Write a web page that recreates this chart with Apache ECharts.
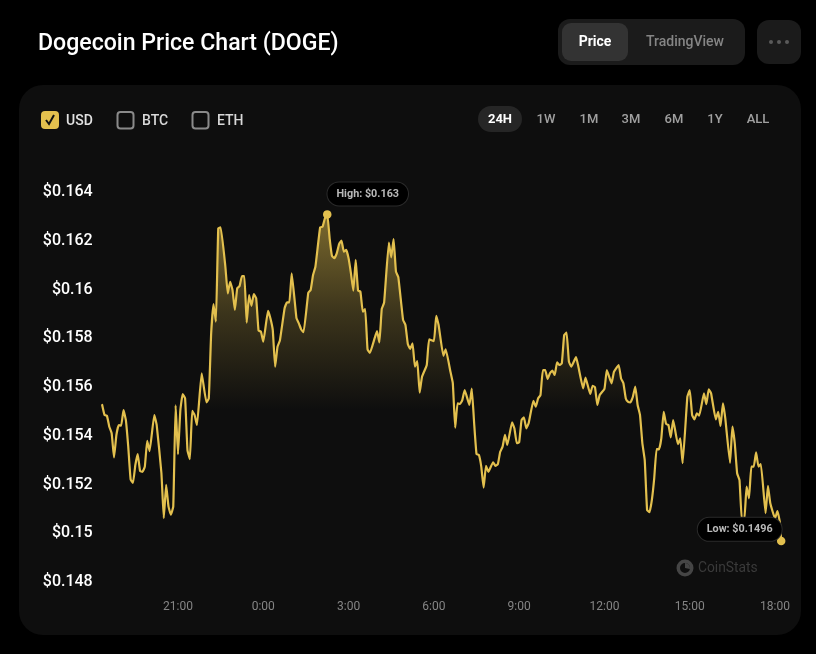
<!DOCTYPE html>
<html><head><meta charset="utf-8">
<style>html,body{margin:0;padding:0;background:#000}#c{width:816px;height:654px}</style>
<script src="https://cdn.jsdelivr.net/npm/echarts@6/dist/echarts.min.js"></script>
</head><body><div id="c"></div>
<script>
// minutes since 18:00 on the first day
const minutes=[20,25,30,35,40,45,50,55,60,65,70,75,80,85,90,95,100,105,110,115,120,130,135,145,150,155,160,165,170,175,180,185,190,195,200,205,210,215,220,230,240,245,250,255,260,265,270,280,285,290,295,300,305,310,315,320,325,330,335,340,345,350,355,360,370,375,380,385,390,395,405,410,415,420,430,435,440,445,455,460,465,470,480,485,490,495,500,505,510,515,520,525,530,535,540,545,550,555,560,565,570,575,580,585,595,600,605,610,615,625,630,635,640,645,655,660,665,670,675,680,685,690,695,705,710,720,725,730,740,745,755,760,765,770,775,780,785,795,800,805,810,815,820,825,830,835,845,850,855,860,865,870,875,885,890,895,900,905,910,915,920,930,935,940,945,950,955,960,965,970,975,980,985,990,995,1000,1005,1010,1020,1025,1035,1040,1050,1055,1060,1065,1070,1080,1085,1095,1100,1110,1115,1120,1125,1130,1135,1140,1145,1150,1155,1160,1165,1170,1175,1180,1185,1190,1195,1200,1205,1210,1215,1220,1225,1235,1240,1245,1255,1260,1265,1270,1275,1280,1290,1295,1300,1305,1315,1320,1325,1330,1335,1345,1350,1355,1360,1365,1370,1375,1380,1385,1390,1395,1400,1405,1410,1420,1425,1430,1440,1445,1450,1453];
const prices=[.15518,.15477,.15474,.15429,.15402,.15303,.15395,.15436,.15433,.15497,.15456,.15347,.15213,.15198,.15272,.15317,.15247,.15244,.15265,.15371,.15329,.15477,.15436,.15239,.15054,.1519,.15101,.15068,.15101,.15517,.15316,.15497,.15563,.15545,.15333,.15296,.15494,.15477,.15436,.15648,.15529,.15545,.15812,.15932,.1586,.16243,.16247,.16085,.15976,.16023,.1599,.15908,.15997,.16006,.16047,.16047,.15856,.15969,.15925,.15973,.15956,.15823,.15819,.15778,.15904,.15874,.15826,.15675,.15757,.15782,.15915,.15939,.15939,.16058,.15874,.15853,.15828,.15817,.15979,.1599,.16051,.16085,.16247,.16249,.16284,.163,.16202,.16129,.1612,.1614,.16178,.16192,.16147,.16154,.1612,.16058,.15987,.16113,.15987,.15983,.15901,.15911,.15746,.15732,.15792,.15821,.15775,.15912,.15938,.16184,.16124,.16199,.16065,.16042,.15867,.15846,.15768,.15748,.15771,.15675,.15698,.15569,.15634,.15682,.15787,.1578,.15884,.15846,.1572,.15746,.15654,.15607,.15425,.15525,.15522,.15538,.15579,.15518,.15585,.15443,.15317,.15313,.15265,.15179,.15268,.15244,.15283,.15268,.15275,.15326,.15347,.15395,.15354,.15447,.15422,.15361,.15365,.15456,.15467,.15422,.15443,.15535,.15511,.15545,.15559,.15661,.15661,.15625,.15648,.15659,.15641,.15693,.15682,.15689,.15805,.15815,.15696,.15675,.15714,.15675,.15586,.1563,.15563,.15597,.15591,.15518,.15559,.15584,.15661,.15607,.15654,.15682,.15627,.15607,.15545,.15531,.15529,.15552,.15593,.15518,.15477,.15361,.15292,.15087,.15078,.15128,.15217,.15337,.15336,.15381,.1549,.1544,.15436,.15385,.15456,.15357,.15381,.15279,.15552,.15579,.15477,.15459,.15484,.15474,.15566,.15521,.15582,.15566,.15459,.1549,.15432,.15525,.15463,.15281,.15429,.15361,.15238,.1521,.15046,.15046,.15183,.15135,.15265,.15265,.15324,.15265,.15276,.15074,.15186,.15115,.15053,.15083,.15039,.1496];
const ranges=['24H','1W','1M','3M','6M','1Y','ALL'];
const rangeX=[500,546,589,631,674,715,758];
const timeLabels=['18:00','21:00','0:00','3:00','6:00','9:00','12:00','15:00','18:00'];
const yellow='#e3c04e';
const FONT='Roboto';

function txt(x,y,s,size,color,weight,align){
  return {type:'text',x,y,z:5,silent:true,style:{text:s,fill:color,font:(weight||400)+' '+size+'px '+FONT,textAlign:align||'left',textVerticalAlign:'middle'}};
}
function rect(x,y,w,h,r,fill,stroke,lw){
  return {type:'rect',z:1,silent:true,shape:{x,y,width:w,height:h,r},style:{fill,stroke:stroke||null,lineWidth:lw||0}};
}
const g=[
  rect(19,85,782,550,24,'#0e0e0e'),
  txt(38,44.5,'Dogecoin Price Chart (DOGE)',23.1,'#ffffff',500),
  rect(558,19,187,46,12,'#1b1b1b'),
  rect(562,23,66,38,9,'#333333'),
  txt(595,42,'Price',14,'#ffffff',700,'center'),
  txt(685,42,'TradingView',14,'#858585',500,'center'),
  rect(757,20,44,44,12,'#1b1b1b'),
  {type:'circle',z:5,silent:true,shape:{cx:771,cy:42,r:2},style:{fill:'#5a5a5a'}},
  {type:'circle',z:5,silent:true,shape:{cx:779,cy:42,r:2},style:{fill:'#5a5a5a'}},
  {type:'circle',z:5,silent:true,shape:{cx:787,cy:42,r:2},style:{fill:'#5a5a5a'}},
  rect(41,111,18,18,4,yellow),
  {type:'polyline',z:5,silent:true,shape:{points:[[46,120],[49,124],[54,115]]},style:{stroke:'#111',lineWidth:2,fill:null}},
  txt(66,121,'USD',14,'#e2e2e2',500),
  rect(117.5,112,16,16.5,3,'transparent','#8a8a8a',2),
  txt(142,121,'BTC',14,'#d8d8d8',500),
  rect(192.5,112,16,16.5,3,'transparent','#8a8a8a',2),
  txt(217,121,'ETH',14,'#d8d8d8',500),
  rect(478,106,44,26,13,'#262626'),
  {type:'ring',z:4,silent:true,shape:{cx:685,cy:568,r:8.5,r0:5},style:{fill:'#454545'}},
  {type:'sector',z:4,silent:true,shape:{cx:685,cy:568,r:5,r0:0,startAngle:-Math.PI/2,endAngle:0.2},style:{fill:'#454545'}},
  {type:'text',x:698,y:569,z:4,silent:true,style:{text:'CoinStats',fill:'#3a3a3a',font:'400 13.8px '+FONT,textVerticalAlign:'middle'}}
];
ranges.forEach((r,i)=>g.push(txt(rangeX[i],119.5,r,13,i===0?'#ffffff':'#a0a0a0',i===0?700:500,'center')));

const pill={color:'#b9b9b9',fontSize:10.8,fontWeight:700,fontFamily:FONT,backgroundColor:'#000',borderColor:'#2b2b2b',borderWidth:1,borderRadius:12,padding:[6,9,6,9]};
const chart=echarts.init(document.getElementById('c'),null,{renderer:'canvas'});
const iHigh=prices.indexOf(Math.max(...prices)), iLow=prices.indexOf(Math.min(...prices));
chart.setOption({
  animation:false,
  backgroundColor:'#000',
  graphic:g,
  grid:{left:92.7,top:190,width:688.5,height:390,containLabel:false},
  xAxis:{type:'value',z:3,min:0,max:1453,interval:180,splitLine:{show:false},axisLine:{show:false},axisTick:{show:false},
    axisLabel:{margin:21,hideOverlap:false,color:'#858585',fontSize:12,fontFamily:FONT,
      formatter:v=>(v>0&&v%180===0)?timeLabels[v/180]:''}},
  yAxis:{type:'value',z:3,min:0.148,max:0.164,interval:0.002,splitLine:{show:false},axisLine:{show:false},axisTick:{show:false},
    axisLabel:{margin:0,color:'#ffffff',fontSize:16,fontWeight:500,fontFamily:FONT,
      rich:{v:{color:'#ffffff',fontSize:16,fontWeight:500,fontFamily:FONT,padding:[4,0,0,0]}},
      formatter:v=>'{v|$'+(+v.toFixed(3))+'}'}},
  series:[{type:'line',z:3,data:minutes.map((m,i)=>[m,prices[i]]),showSymbol:false,symbol:'none',clip:false,smooth:0.12,
    lineStyle:{color:yellow,width:2.2,join:'round',cap:'round'},
    areaStyle:{color:new echarts.graphic.LinearGradient(0,215,0,410,[
      {offset:0,color:'rgba(230,195,77,0.72)'},
      {offset:0.5,color:'rgba(230,195,77,0.3)'},
      {offset:1,color:'rgba(230,195,77,0)'}],true)},
    markPoint:{silent:true,symbol:'circle',symbolSize:8.5,itemStyle:{color:yellow},animation:false,
      data:[
        {coord:[minutes[iHigh],prices[iHigh]],label:Object.assign({},pill,{show:true,position:'inside',offset:[40.5,-20.5],formatter:'High: $'+prices[iHigh]})},
        {coord:[minutes[iLow],prices[iLow]],label:Object.assign({},pill,{show:true,position:'inside',offset:[-41.5,-11.7],formatter:'Low: $'+prices[iLow]})}
      ]}
  }]
});
</script></body></html>
